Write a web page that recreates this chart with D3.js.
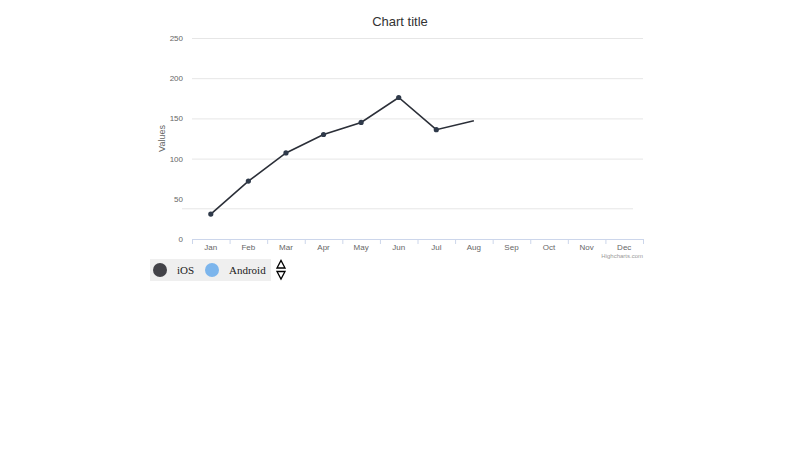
<!DOCTYPE html>
<html>
<head>
<meta charset="utf-8">
<script src="https://cdn.jsdelivr.net/npm/d3@7"></script>
<style>
  body { margin: 0; background: #fff; }
  text { font-family: "Liberation Sans", Arial, sans-serif; }
</style>
</head>
<body>
<svg id="chart" width="800" height="450"></svg>
<script>
// Chart data
const months = ["Jan", "Feb", "Mar", "Apr", "May", "Jun", "Jul", "Aug", "Sep", "Oct", "Nov", "Dec"];
const iosValues = [31, 72, 107, 130, 145, 176, 136, 147];
const yTicks = [0, 50, 100, 150, 200, 250];
const legendItems = ["iOS", "Android"];
const legendColors = ["#434348", "#7cb5ec"];

const svg = d3.select("#chart");
const margin = { top: 38, right: 157, bottom: 211, left: 192 };
const width = +svg.attr("width");
const height = +svg.attr("height");

const xScale = d3.scaleBand().domain(months).range([margin.left, width - margin.right]);
const yScale = d3.scaleLinear().domain([0, 250]).range([height - margin.bottom, margin.top]);

// Title
svg.append("text")
  .attr("x", 400)
  .attr("y", 26)
  .attr("text-anchor", "middle")
  .style("font-size", "13px")
  .style("fill", "#333333")
  .text("Chart title");

// Grid lines
const grid = svg.append("g")
  .attr("class", "grid")
  .attr("transform", `translate(${margin.left},0)`)
  .call(d3.axisLeft(yScale).tickValues(yTicks).tickSize(-(width - margin.left - margin.right)).tickFormat(""));
grid.select(".domain").remove();
grid.selectAll("line").attr("stroke", "#e6e6e6");
grid.selectAll(".tick").filter(d => d === 0).remove();
// the 50 line sits lower and shifted left in the original
grid.selectAll(".tick").filter(d => d === 50).attr("transform", `translate(-10,${yScale(50) + 10})`);

// Y axis labels
const yAxis = svg.append("g")
  .attr("transform", `translate(${margin.left},0)`)
  .call(d3.axisLeft(yScale).tickValues(yTicks).tickSize(0).tickPadding(9));
yAxis.select(".domain").remove();
yAxis.selectAll("text")
  .style("font-size", "8px")
  .style("fill", "#666666")
  .style("font-family", "Liberation Sans, Arial, sans-serif");

// Y axis title
svg.append("text")
  .attr("transform", `translate(165,${(yScale(0) + yScale(250)) / 2}) rotate(-90)`)
  .attr("text-anchor", "middle")
  .style("font-size", "9px")
  .style("fill", "#666666")
  .text("Values");

// X axis
const xEdges = months.map(m => xScale(m)).concat([width - margin.right]);
const xAxis = svg.append("g")
  .attr("transform", `translate(0,${yScale(0)})`)
  .call(d3.axisBottom(xScale).tickSize(0).tickPadding(5));
xAxis.select(".domain").attr("stroke", "#ccd6eb");
xAxis.selectAll("text")
  .style("font-size", "8px")
  .style("fill", "#666666")
  .style("font-family", "Liberation Sans, Arial, sans-serif");
xAxis.selectAll(".edge")
  .data(xEdges)
  .enter().append("line")
  .attr("class", "edge")
  .attr("x1", d => d + 0.5)
  .attr("x2", d => d + 0.5)
  .attr("y1", 0)
  .attr("y2", 5)
  .attr("stroke", "#ccd6eb");

// Series line
const line = d3.line()
  .x((d, i) => xScale(months[i]) + xScale.bandwidth() / 2)
  .y(d => yScale(d));

svg.append("path")
  .datum(iosValues)
  .attr("fill", "none")
  .attr("stroke", "#2b2f38")
  .attr("stroke-width", 1.6)
  .attr("d", line);

svg.selectAll(".marker")
  .data(iosValues.slice(0, 7))
  .enter().append("circle")
  .attr("class", "marker")
  .attr("cx", (d, i) => xScale(months[i]) + xScale.bandwidth() / 2)
  .attr("cy", d => yScale(d))
  .attr("r", 2.6)
  .attr("fill", "#2f3a4a");

// Credits
svg.append("text")
  .attr("x", width - margin.right)
  .attr("y", 258)
  .attr("text-anchor", "end")
  .style("font-size", "6px")
  .style("fill", "#999999")
  .text("Highcharts.com");

// Legend
const legend = svg.append("g").attr("transform", "translate(150,259)");
legend.append("rect")
  .attr("width", 121)
  .attr("height", 22)
  .attr("fill", "#efefef");

const legendX = d3.scalePoint().domain(legendItems).range([10, 62]);
const entries = legend.selectAll(".entry")
  .data(legendItems)
  .enter().append("g")
  .attr("class", "entry")
  .attr("transform", d => `translate(${legendX(d)},11)`);
entries.append("circle")
  .attr("r", 7)
  .attr("fill", (d, i) => legendColors[i]);
entries.append("text")
  .attr("x", 17)
  .attr("y", 4)
  .style("font-family", "Liberation Serif, Times New Roman, serif")
  .style("font-size", "11px")
  .style("fill", "#222")
  .text(d => d);

// Scroll arrows
const arrows = svg.append("g").attr("transform", "translate(281,270)");
arrows.append("path")
  .attr("d", "M-4,-2 L0,-9.5 L4,-2 Z")
  .attr("fill", "none")
  .attr("stroke", "#000")
  .attr("stroke-width", 1.3);
arrows.append("path")
  .attr("d", "M-4,1.5 L0,9 L4,1.5 Z")
  .attr("fill", "none")
  .attr("stroke", "#000")
  .attr("stroke-width", 1.3);
</script>
</body>
</html>
